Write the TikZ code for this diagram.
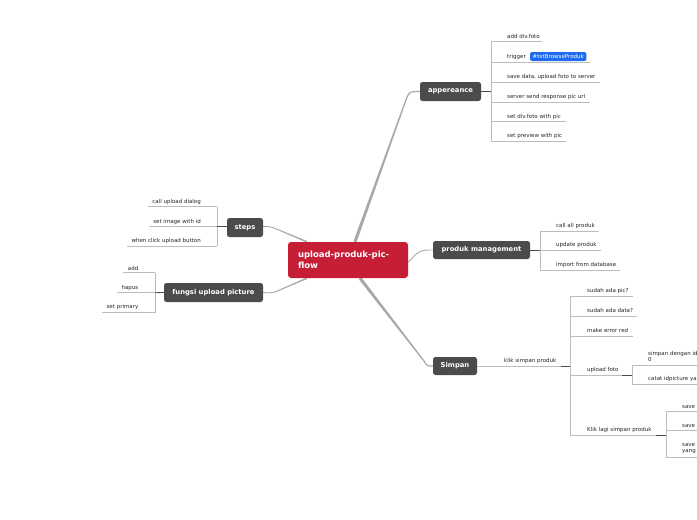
\documentclass[tikz,border=0pt]{standalone}
\usepackage{fontspec}
\setmainfont{DejaVu Sans}
\usetikzlibrary{calc,backgrounds}
\definecolor{rootred}{HTML}{C61F35}
\definecolor{dkgray}{HTML}{4B4B4B}
\definecolor{tagblue}{HTML}{1F6BF0}
\definecolor{lgray}{HTML}{BDBDBD}
\definecolor{mgray}{HTML}{A8A8A8}
\tikzset{
  leaf/.style={font=\fontsize{5.5}{6.5}\selectfont, text=black!85, inner sep=0pt},
  leafw/.style={leaf, anchor=west},
  leafe/.style={leaf, anchor=east},
  bus/.style={draw=lgray, line width=0.6pt},
  uline/.style={draw=lgray, line width=0.6pt},
  stub/.style={draw=dkgray, line width=0.8pt},
  branch/.style={fill=dkgray, rounded corners=2.5pt, text=white, inner sep=0pt,
    font=\fontsize{6.8}{8}\selectfont\bfseries},
  rootbox/.style={fill=rootred, rounded corners=3pt, text=white, inner xsep=10pt, inner ysep=0pt,
    minimum width=120pt, minimum height=36pt, text width=100pt, align=left,
    font=\fontsize{8.5}{11}\selectfont\bfseries},
  mainline/.style={draw=mgray, line width=1.2pt, line cap=round},
  thinline/.style={draw=mgray, line width=0.9pt, line cap=round},
  tag/.style={fill=tagblue, rounded corners=1.5pt, text=white, inner xsep=2.5pt, inner ysep=0pt,
    minimum height=9pt, font=\fontsize{5.5}{6.5}\selectfont}
}
\newcommand{\taper}[4]{% start, knee, start half width, end half width
  \fill[mgray] ($(#1)!#3!90:(#2)$) -- ($(#2)!#4!-90:(#1)$) -- ($(#2)!#4!90:(#1)$) -- ($(#1)!#3!-90:(#2)$) -- cycle;}
\begin{document}
\begin{tikzpicture}[x=1pt,y=-1pt]
\useasboundingbox (0,0) rectangle (697,520);
\clip (0,0) rectangle (697,520);

% root and branches
\node[rootbox] (root) at (348,260) {upload-produk-pic-\\flow};
\node[branch, minimum width=61pt, minimum height=19pt] (app) at (450.5,91.5) {appereance};
\node[branch, minimum width=97pt, minimum height=18pt] (pm) at (481.5,250) {produk management};
\node[branch, minimum width=44pt, minimum height=18pt] (simpan) at (455,366) {Simpan};
\node[branch, minimum width=36pt, minimum height=19pt] (steps) at (245,227.5) {steps};
\node[branch, minimum width=99pt, minimum height=19pt] (fungsi) at (213.5,292.5) {fungsi upload picture};

% main connectors (tapered), behind the nodes
\coordinate (r1) at ([xshift=7pt]root.north);   \coordinate (k1) at (407,97);
\coordinate (r2) at ([xshift=12pt]root.south);  \coordinate (k2) at (424,361);
\coordinate (r3) at ([xshift=-41pt]root.north); \coordinate (k3) at (274,228);
\coordinate (r4) at ([xshift=-41pt]root.south); \coordinate (k4) at (275,292);
\begin{pgfonlayer}{background}
\fill[white] (0,0) rectangle (697,520);
\taper{r1}{k1}{1.6pt}{0.6pt}
\taper{r2}{k2}{1.6pt}{0.6pt}
\taper{r3}{k3}{0.8pt}{0.45pt}
\taper{r4}{k4}{0.8pt}{0.45pt}
\draw[mainline] (k1) .. controls (410,91.5) .. (app.west);
\draw[mainline] (k2) .. controls (427,366) .. (simpan.west);
\draw[thinline] (k3) .. controls (270,226.5) .. ([yshift=1pt]steps.east);
\draw[thinline] (k4) .. controls (271,293) .. (fungsi.east);
\draw[thinline] ([yshift=-2pt]root.east) .. controls (420,250) .. (pm.west);
\end{pgfonlayer}

% ---------- appereance ----------
\coordinate (ab1) at (491,41.7);
\coordinate (ab6) at (491,141.7);
\draw[bus] (ab1) -- (ab6);
\draw[stub] (app.east) -- (491,91.5);
\node[leafw] (a1) at (507,36) {add div.foto};
\node[leafw] (a2) at (507,56.5) {trigger};
\node[tag, anchor=west] (a2t) at (530,56.5) {\#txtBrowseProduk};
\node[leafw] (a3) at (507,77) {save data, upload foto to server};
\node[leafw] (a4) at (507,97) {server send response pic url};
\node[leafw] (a5) at (507,116.5) {set div.foto with pic};
\node[leafw] (a6) at (507,136) {set preview with pic};
\draw[uline] (ab1) -- (542,41.7);
\draw[uline] (491,62) -- (590,62);
\draw[uline] (491,82.7) -- (600,82.7);
\draw[uline] (491,102) -- (590,102);
\draw[uline] (491,121.7) -- (566,121.7);
\draw[uline] (ab6) -- (566,141.7);

% ---------- steps ----------
\coordinate (sb1) at (217,206.7);
\coordinate (sb3) at (217,246);
\draw[bus] (sb1) -- (sb3);
\draw[stub] ([yshift=0.8pt]steps.west) -- (217,226.7);
\node[leafe] (s1) at (201,202) {call upload dialog};
\node[leafe] (s2) at (201,221.5) {set image with id};
\node[leafe] (s3) at (201,241) {when click upload button};
\draw[uline] (sb1) -- (148,206.7);
\draw[uline] (217,226.7) -- (149,226.7);
\draw[uline] (sb3) -- (127,246);

% ---------- fungsi upload picture ----------
\coordinate (fb1) at (155,272.7);
\coordinate (fb3) at (155,312.7);
\draw[bus] (fb1) -- (fb3);
\draw[stub] (fungsi.west) -- (155,292.7);
\node[leafe] (f1) at (138.5,268) {add};
\node[leafe] (f2) at (138.5,287.5) {hapus};
\node[leafe] (f3) at (138.5,307) {set primary};
\draw[uline] (fb1) -- (123,272.7);
\draw[uline] (155,292.7) -- (117,292.7);
\draw[uline] (fb3) -- (102,312.7);

% ---------- produk management ----------
\coordinate (pb1) at (540,231);
\coordinate (pb3) at (540,270);
\draw[bus] (pb1) -- (pb3);
\draw[stub] (pm.east) -- (540,250);
\node[leafw] (p1) at (556,225.5) {call all produk};
\node[leafw] (p2) at (556,245) {update produk};
\node[leafw] (p3) at (556,264.5) {import from database};
\draw[uline] (pb1) -- (599,231);
\draw[uline] (540,250.7) -- (601,250.7);
\draw[uline] (pb3) -- (620,270);

% ---------- Simpan ----------
\node[leafw] (k0) at (504,360.5) {klik simpan produk};
\draw[uline] (simpan.east) -- (561,366);
\draw[stub] (561,366) -- (570,366);
\coordinate (kb1) at (570,296);
\coordinate (kb5) at (570,435);
\draw[bus] (kb1) -- (kb5);
\node[leafw] (q1) at (587,291) {sudah ada pic?};
\node[leafw] (q2) at (587,310.7) {sudah ada data?};
\node[leafw] (q3) at (587,330.5) {make error red};
\node[leafw] (q4) at (587,370) {upload foto};
\node[leafw] (q5) at (587,429.5) {Klik lagi simpan produk};
\draw[uline] (kb1) -- (633,296);
\draw[uline] (570,316) -- (637,316);
\draw[uline] (570,336) -- (633,336);
\draw[uline] (570,375) -- (622,375);
\draw[stub] (622,375) -- (632,375);
\draw[uline] (kb5) -- (656,435);
\draw[stub] (656,435) -- (666,435);

% upload foto children
\coordinate (ub1) at (632,365);
\coordinate (ub2) at (632,384);
\draw[bus] (ub1) -- (ub2);
\node[leafw, align=left, anchor=north west] (u1) at (648,351) {simpan dengan id\\0};
\node[leafw] (u2) at (648,379) {catat idpicture yang};
\draw[uline] (ub1) -- (700,365);
\draw[uline] (ub2) -- (700,384);

% klik lagi children
\coordinate (lb1) at (666,411.7);
\coordinate (lb3) at (666,457.7);
\draw[bus] (lb1) -- (lb3);
\node[leafw] (l1) at (682,407) {save};
\node[leafw] (l2) at (682,426) {save};
\node[leafw, align=left, anchor=north west] (l3) at (682,443) {save\\yang};
\draw[uline] (lb1) -- (700,411.7);
\draw[uline] (666,430.7) -- (700,430.7);
\draw[uline] (lb3) -- (700,457.7);
\end{tikzpicture}
\end{document}
